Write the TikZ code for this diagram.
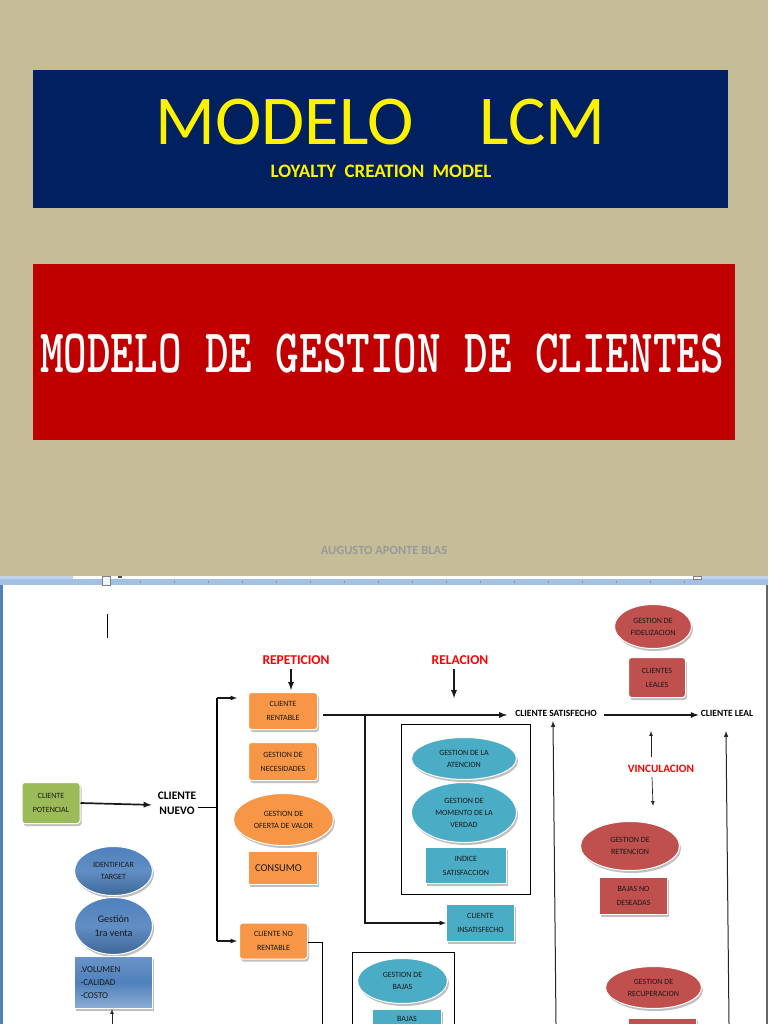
\documentclass[tikz,border=0pt]{standalone}
\usepackage{fontspec}
\setmainfont{Carlito}
\usetikzlibrary{shadows,shapes.geometric}
\definecolor{fondo}{HTML}{C4BD97}
\definecolor{marino}{HTML}{002060}
\definecolor{rojo}{HTML}{C00000}
\definecolor{naranja}{HTML}{F79646}
\definecolor{verde}{HTML}{9BBB59}
\definecolor{celeste}{HTML}{4BACC6}
\definecolor{vino}{HTML}{C0504D}
\definecolor{azul}{HTML}{4F81BD}
\definecolor{regla}{HTML}{A4C0E4}
\tikzset{
  sombra/.style={draw=white,line width=1pt,drop shadow={shadow xshift=1.5pt,shadow yshift=-2.5pt,fill=black!25,opacity=1}},
  caja/.style={rectangle,sombra,align=center,inner sep=0pt,font=\fontsize{8}{14}\selectfont,text=black!90},
  ovalo/.style={ellipse,sombra,align=center,inner sep=0pt,font=\fontsize{8}{12}\selectfont,text=black!90},
  redonda/.style={rounded corners=3pt},
  etiqueta/.style={inner sep=2pt,align=center,font=\fontsize{11.5}{15}\selectfont\bfseries},
  rojotxt/.style={inner sep=2pt,text=red,font=\fontsize{13.5}{14}\selectfont\bfseries},
  flecha/.style={-latex,line width=1.7pt,black!90},
  media/.style={-latex,line width=1.2pt,black!90},
  fina/.style={-latex,line width=0.7pt,black!85},
}
\begin{document}
\begin{tikzpicture}[x=1pt,y=-1pt]
    \useasboundingbox (0,0) rectangle (768,1024);
    \clip (0,0) rectangle (768,1024);
    \fill[fondo] (0,0) rectangle (768,1024);
    % titulos
    \node[fill=marino,minimum width=695,minimum height=138,inner sep=0pt] (azulbox) at (380.5,139) {};
    \node[fill=rojo,minimum width=702,minimum height=176,inner sep=0pt] (rojobox) at (384,352) {};
    \node[text=yellow,inner sep=0pt,font=\fontsize{70}{70}\selectfont] (lcm) at (380.5,122) {MODELO\hspace{66pt}LCM};
    \node[text=yellow,inner sep=0pt,font=\fontsize{19}{19}\selectfont\bfseries] (loyalty) at (381,171) {LOYALTY\hspace{4pt} CREATION\hspace{4pt} MODEL};
    \node[text=white,inner sep=0pt,yscale=1.38,transform shape,font=\fontsize{44.9}{44}\selectfont\ttfamily\bfseries] (gestion) at (382,354) {MODELO DE GESTION DE CLIENTES};
    \node[text=black!40,inner sep=0pt,font=\fontsize{12.5}{13}\selectfont\bfseries] (autor) at (384,550) {AUGUSTO APONTE BLAS};
    % ventana
    \fill[white] (0,576) rectangle (768,1024);
    \fill[regla] (0,579) rectangle (768,585);
    \fill[regla!70!white] (0,576) rectangle (73,579);
    \fill[regla!70!white] (701,576) rectangle (768,579);
    \foreach \t in {0,...,16}
        \draw[black!45,line width=0.5pt] (140+34*\t,581)--(140+34*\t,583);
    \draw[black!50,fill=white!85!regla,line width=0.5pt] (102,576) rectangle (110,585);
    \draw[black!50,fill=white!85!regla,line width=0.5pt] (693,576) rectangle (701,579);
    \fill[black!70] (118,576) rectangle (122,578);
    \fill[azul] (0,585) rectangle (3,1024);
    \fill[black!60] (766,585) rectangle (768,1024);
    \draw[line width=1pt] (107,614)--(107,638);
    % izquierda
    \node[caja,redonda,fill=verde,minimum width=58,minimum height=41] (potencial) at (51,803) {CLIENTE\\POTENCIAL};
    \node[etiqueta] (nuevo) at (177,803) {CLIENTE\\NUEVO};
    \node[ovalo,top color=azul,bottom color=azul!80!black,middle color=azul!90!white,minimum width=78,minimum height=49] (target) at (113.5,871) {IDENTIFICAR\\TARGET};
    \node[ovalo,top color=azul,bottom color=azul!80!black,middle color=azul!90!white,minimum width=78,minimum height=57,font=\fontsize{10}{14}\selectfont] (venta) at (113.5,926) {Gestión\\1ra venta};
    \node[caja,top color=azul!85!white,bottom color=azul!65!white,middle color=azul,minimum width=78,minimum height=52,align=left,text width=66,font=\fontsize{9}{13}\selectfont] (volumen) at (113.5,982.5) {.VOLUMEN\\-CALIDAD\\-COSTO};
    % centro
    \node[caja,redonda,fill=naranja,minimum width=69,minimum height=37] (rentable) at (283,711) {CLIENTE\\RENTABLE};
    \node[caja,redonda,fill=naranja,minimum width=69,minimum height=38] (necesidades) at (283,761.5) {GESTION DE\\NECESIDADES};
    \node[ovalo,fill=naranja,minimum width=100,minimum height=52] (oferta) at (283.5,819.5) {GESTION DE\\OFERTA DE VALOR};
    \node[caja,fill=naranja,minimum width=69,minimum height=33,align=left,text width=56,font=\fontsize{10.5}{12}\selectfont] (consumo) at (283,868) {CONSUMO\\[9pt]};
    \node[caja,redonda,fill=naranja,minimum width=68,minimum height=36] (norentable) at (273.5,941) {CLIENTE NO\\RENTABLE};
    \node[rojotxt] (repeticion) at (296,660) {REPETICION};
    \node[rojotxt] (relacion) at (460,660) {RELACION};
    % cajas con marco
    \node[draw,line width=0.7pt,minimum width=129,minimum height=170,inner sep=0pt] (marco) at (465.5,809) {};
    \node[draw,line width=0.7pt,minimum width=102,minimum height=120,inner sep=0pt] (marcobajas) at (403,1012) {};
    \node[ovalo,fill=celeste,minimum width=105,minimum height=42] (atencion) at (464,758.5) {GESTION DE LA\\ATENCION};
    \node[ovalo,fill=celeste,minimum width=105,minimum height=60] (momento) at (464,812.5) {GESTION DE\\MOMENTO DE LA\\VERDAD};
    \node[caja,fill=celeste,minimum width=81,minimum height=36] (indice) at (466,865.5) {INDICE\\SATISFACCION};
    \node[caja,fill=celeste,minimum width=68,minimum height=37] (insatisfecho) at (480.5,923) {CLIENTE\\INSATISFECHO};
    \node[ovalo,fill=celeste,minimum width=90,minimum height=45] (bajas) at (402.5,981) {GESTION DE\\BAJAS};
    \node[caja,fill=celeste,minimum width=69,minimum height=40] (bajasbox) at (407,1029) {BAJAS\\[7pt]};
    % derecha
    \node[etiqueta,font=\fontsize{9.5}{10}\selectfont\bfseries] (satisfecho) at (556,713) {CLIENTE SATISFECHO};
    \node[etiqueta,font=\fontsize{9.5}{10}\selectfont\bfseries] (leal) at (727,713) {CLIENTE LEAL};
    \node[ovalo,fill=vino,minimum width=77,minimum height=44] (fidelizacion) at (653,626.5) {GESTION DE\\FIDELIZACION};
    \node[caja,redonda,fill=vino,minimum width=57,minimum height=40] (leales) at (657,677.5) {CLIENTES\\LEALES};
    \node[rojotxt,font=\fontsize{11.3}{12}\selectfont\bfseries] (vinculacion) at (661,769) {VINCULACION};
    \node[ovalo,fill=vino,minimum width=99,minimum height=49] (retencion) at (630,846) {GESTION DE\\RETENCION};
    \node[caja,fill=vino,minimum width=68,minimum height=37] (deseadas) at (633.5,896) {BAJAS NO\\DESEADAS};
    \node[ovalo,fill=vino,minimum width=96,minimum height=42] (recuperacion) at (653.5,987.5) {GESTION DE\\RECUPERACION};
    \node[caja,fill=vino,minimum width=68,minimum height=40] (recuperados) at (662.5,1038) {};
    % puntos libres
    \coordinate (fin1) at (322,1024);
    \coordinate (fin2) at (556,1024);
    \coordinate (fin3) at (729,1024);
    \coordinate (fin4) at (112,1024);
    \coordinate (tronco) at (217,807);
    \coordinate (arriba) at (217,698);
    \coordinate (abajo) at (217,941);
    \coordinate (linea) at (323,715);
    \coordinate (rama) at (365,715);
    \coordinate (esquina) at (322,942);
    % conectores
    \draw[flecha,shorten >=4pt] (potencial.east)--(nuevo.west|-0,805);
    \draw[line width=0.6pt] (nuevo.east|-tronco)--(tronco);
    \draw[media,shorten >=11pt] (arriba)--(rentable.west|-arriba);
    \draw[line width=1.3pt] (arriba)--(abajo);
    \draw[media,shorten >=2pt] (abajo)--(norentable.west);
    \draw[flecha,shorten >=6pt] (linea)--(satisfecho.west|-linea);
    \draw[media] (rama)--(rama|-insatisfecho)--(insatisfecho.west);
    \draw[line width=0.9pt] (norentable.east|-esquina)--(esquina)--(fin1);
    \draw[flecha] (291,669)--(291,690);
    \draw[flecha] (454,669)--(454,698);
    \draw[flecha,shorten <=5pt] (satisfecho.east|-linea)--(leal.west|-linea);
    \draw[fina] (651,757)--(651,731);
    \draw[fina] (652,777)--(653,806);
    \draw[fina,line width=1pt] (fin2)--(553,721);
    \draw[fina,line width=1pt] (fin3)--(726,731);
    \draw[fina] (fin4)--(volumen.south-|fin4);
\end{tikzpicture}
\end{document}
